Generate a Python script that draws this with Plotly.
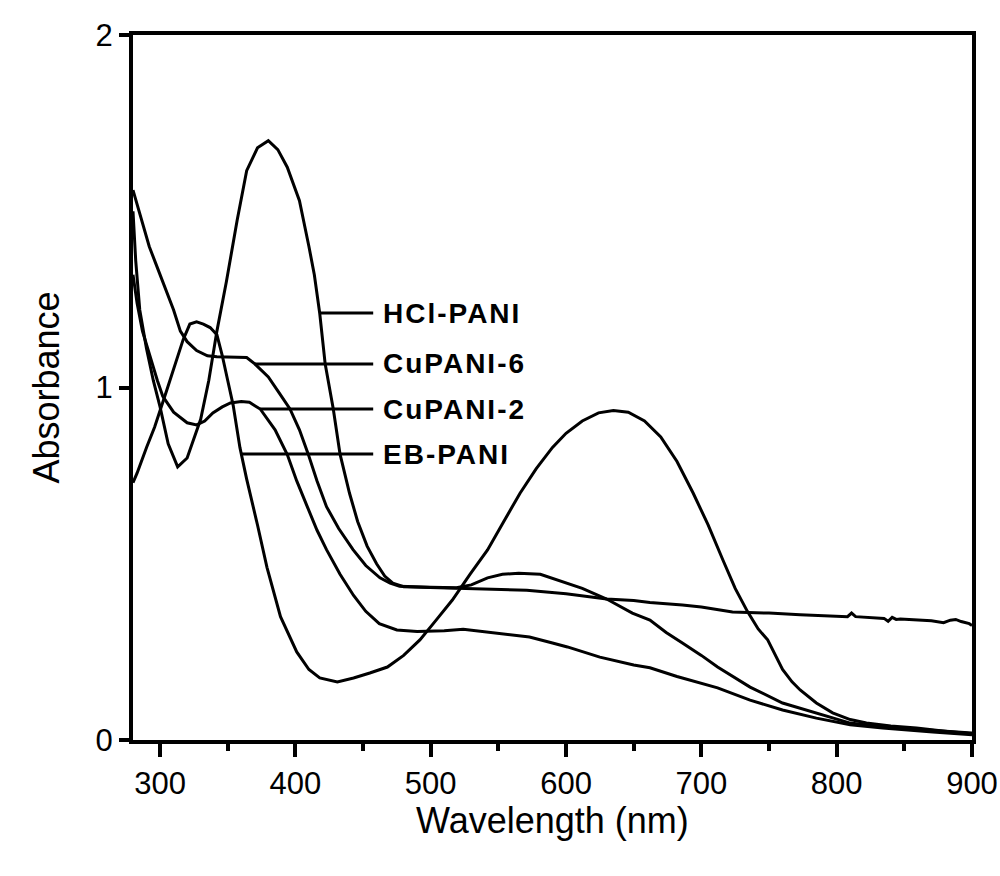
import plotly.graph_objects as go

# ---------------- data ----------------
wl_hcl = [280, 282, 285, 290, 295, 300, 306, 313, 320, 330, 336, 342, 349, 357, 364, 372, 380, 387,
          394, 403, 410, 414, 418, 422, 428, 433, 440, 446, 453, 460, 466, 472, 480, 500, 520, 540,
          571, 600, 630, 650, 662, 686, 700, 723, 750, 773, 800, 808, 811, 814, 835, 838, 841, 844,
          847, 870, 879, 884, 888, 892, 898, 900]
abs_hcl = [1.50, 1.36, 1.22, 1.11, 1.02, 0.945, 0.84, 0.775, 0.80, 0.91, 1.02, 1.16, 1.30, 1.475, 1.615,
           1.68, 1.70, 1.675, 1.625, 1.53, 1.40, 1.32, 1.21, 1.067, 0.939, 0.811, 0.70, 0.62, 0.55,
           0.50, 0.465, 0.445, 0.435, 0.433, 0.43, 0.428, 0.425, 0.415, 0.40, 0.396, 0.39, 0.383,
           0.377, 0.363, 0.36, 0.355, 0.351, 0.35, 0.36, 0.35, 0.345, 0.337, 0.348, 0.342, 0.343,
           0.338, 0.333, 0.34, 0.342, 0.336, 0.33, 0.325]

wl_cu6 = [280, 283, 287, 292, 297, 302, 310, 315, 320, 327, 335, 342, 355, 364, 370, 380, 388, 396,
          403, 409.5, 416, 423, 432, 442.6, 452, 462.5, 470, 477, 500, 519, 530, 542, 553, 565, 581,
          593, 612, 630, 649, 662, 674, 686, 700, 712, 736, 760, 785, 810, 834, 871, 900]
abs_cu6 = [1.56, 1.52, 1.47, 1.40, 1.35, 1.30, 1.22, 1.16, 1.13, 1.105, 1.09, 1.087, 1.087, 1.085,
           1.067, 1.03, 0.985, 0.939, 0.88, 0.811, 0.735, 0.662, 0.60, 0.54, 0.495, 0.46, 0.445,
           0.436, 0.433, 0.432, 0.44, 0.46, 0.47, 0.473, 0.47, 0.454, 0.43, 0.40, 0.36, 0.34, 0.305,
           0.275, 0.24, 0.207, 0.15, 0.105, 0.077, 0.048, 0.037, 0.028, 0.02]

wl_cu2 = [280, 283, 287, 293, 298, 302, 310, 320, 327, 333, 339, 346, 352, 360, 366, 374, 385, 394,
          401, 409, 416, 423, 433, 443, 452, 462, 475, 490, 510, 524, 540, 549, 573, 590, 601, 625,
          650, 662, 682, 712, 736, 760, 785, 810, 834, 871, 900]
abs_cu2 = [1.32, 1.24, 1.16, 1.08, 1.02, 0.975, 0.93, 0.90, 0.894, 0.905, 0.928, 0.945, 0.956, 0.96,
           0.958, 0.939, 0.88, 0.81, 0.735, 0.66, 0.595, 0.54, 0.47, 0.41, 0.365, 0.33, 0.312, 0.308,
           0.31, 0.314, 0.307, 0.303, 0.292, 0.275, 0.264, 0.235, 0.213, 0.205, 0.18, 0.148, 0.113,
           0.085, 0.062, 0.043, 0.034, 0.023, 0.015]

wl_eb = [280, 283, 290, 296, 305, 312, 317, 322, 327, 332, 337, 342, 346, 350, 354, 359, 364, 372,
         379, 389, 401, 410, 418, 431, 443, 455, 468, 480, 492, 504, 516, 529, 542, 554, 566, 578,
         590, 600, 612, 624, 635, 646, 658, 670, 682, 694, 705, 716, 725, 734, 742, 749, 755, 760,
         767, 773, 785, 797, 810, 822, 840, 859, 880, 900]
abs_eb = [0.73, 0.757, 0.83, 0.888, 0.993, 1.08, 1.135, 1.18, 1.186, 1.18, 1.17, 1.15, 1.09, 1.02,
          0.95, 0.83, 0.74, 0.61, 0.49, 0.35, 0.25, 0.20, 0.176, 0.165, 0.176, 0.19, 0.207, 0.24,
          0.284, 0.34, 0.397, 0.47, 0.539, 0.62, 0.70, 0.77, 0.83, 0.87, 0.905, 0.928, 0.935, 0.93,
          0.905, 0.86, 0.79, 0.70, 0.61, 0.51, 0.43, 0.365, 0.315, 0.284, 0.24, 0.20, 0.165, 0.142,
          0.105, 0.077, 0.058, 0.048, 0.04, 0.034, 0.025, 0.018]

series_names = ["HCl-PANI", "CuPANI-6", "CuPANI-2", "EB-PANI"]
# leader lines: wavelength where each leader meets its curve, and the label level
leader_start = [418, 370, 374, 360]
label_level = [1.211, 1.067, 0.939, 0.811]

x_ticks = [300, 400, 500, 600, 700, 800, 900]
x_minor_ticks = [350, 450, 550, 650, 750, 850]
y_ticks = [0, 1, 2]
x_title = "Wavelength (nm)"
y_title = "Absorbance"

# ---------------- figure ----------------
fig = go.Figure()
for wl, ab, name in [(wl_hcl, abs_hcl, series_names[0]), (wl_cu6, abs_cu6, series_names[1]),
                     (wl_cu2, abs_cu2, series_names[2]), (wl_eb, abs_eb, series_names[3])]:
    fig.add_trace(go.Scatter(x=wl, y=ab, mode="lines", name=name,
                             line=dict(color="black", width=3), showlegend=False))

LEADER_END = 457.5
LABEL_X = 463.5
for name, x0, yv in zip(series_names, leader_start, label_level):
    fig.add_shape(type="line", x0=x0, x1=LEADER_END, y0=yv, y1=yv, xref="x", yref="y",
                  line=dict(color="black", width=3))
    fig.add_annotation(x=LABEL_X, y=yv, xref="x", yref="y", xanchor="left", yanchor="middle",
                       text="<span style='letter-spacing:2px'>%s</span>" % name, showarrow=False,
                       font=dict(family="Liberation Sans", size=28, color="black", weight="bold"))

# x-axis title placed just under the tick labels
fig.add_annotation(x=0.5, y=-0.1135, xref="paper", yref="paper", xanchor="center",
                   yanchor="middle", text=x_title, showarrow=False,
                   font=dict(family="Liberation Sans", size=36, color="black"))

fig.update_layout(
    width=1000, height=876,
    margin=dict(l=133, r=28, t=35, b=136, autoexpand=False),
    paper_bgcolor="white", plot_bgcolor="white",
    font=dict(family="Liberation Sans", color="black"),
)
fig.update_xaxes(
    range=[280, 900], tickvals=x_ticks, ticks="outside", ticklen=13, tickwidth=4,
    tickcolor="black", showline=True, linewidth=4, linecolor="black", mirror=True,
    showgrid=False, zeroline=False, automargin=False, tickfont=dict(size=31, color="black"),
    minor=dict(tickvals=x_minor_ticks, ticks="outside", ticklen=7,
               tickwidth=4, tickcolor="black"),
)
fig.update_yaxes(
    range=[0, 2], tickvals=y_ticks, ticks="outside", ticklen=10, tickwidth=4,
    tickcolor="black", showline=True, linewidth=4, linecolor="black", mirror=True,
    showgrid=False, zeroline=False, automargin=False, tickfont=dict(size=31, color="black"),
    title=dict(text=y_title, font=dict(size=36, color="black"), standoff=26),
)

fig.write_html("out.html")
